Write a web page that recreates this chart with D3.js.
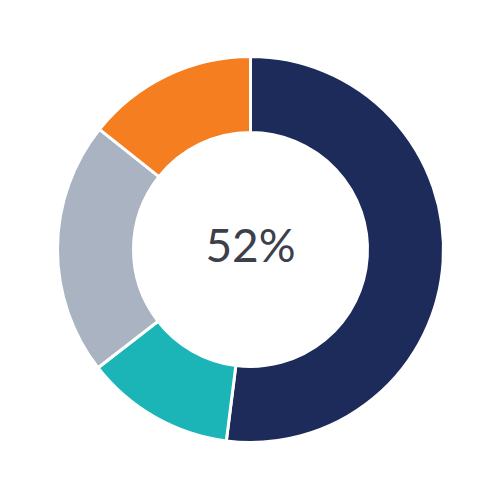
<!DOCTYPE html>
<html>
<head>
<meta charset="utf-8">
<script src="https://cdn.jsdelivr.net/npm/d3@7"></script>
<style>
  html, body { margin: 0; padding: 0; background: #fff; }
</style>
</head>
<body>
<div id="chart"></div>
<script>
const categories = ["A", "B", "C", "D"];
const values = [52, 12.5, 21.2, 14.3];
const colors = ["#1c2b5a", "#1bb5b7", "#a9b3c2", "#f47e20"];
const centerLabel = "52%";

const width = 500;
const height = 500;
const cx = 250.5;
const cy = 249.5;
const outerRadius = 193;
const innerRadius = 117;

const svg = d3.select("#chart")
    .append("svg")
    .attr("width", width)
    .attr("height", height);

const g = svg.append("g")
    .attr("transform", `translate(${cx},${cy})`);

const pie = d3.pie()
    .sort(null)
    .value(d => d.value);

const arc = d3.arc()
    .innerRadius(innerRadius)
    .outerRadius(outerRadius);

const data = categories.map((c, i) => ({ name: c, value: values[i], color: colors[i] }));

// Slices, white gaps between them
g.selectAll("path")
    .data(pie(data))
    .join("path")
    .attr("d", arc)
    .attr("fill", d => d.data.color)
    .attr("stroke", "white")
    .attr("stroke-width", 3);

g.append("text")
    .attr("x", 0)
    .attr("y", 12)
    .attr("text-anchor", "middle")
    .attr("font-family", "Lato, sans-serif")
    .attr("font-size", 46)
    .attr("fill", "#3b404a")
    .text(centerLabel);
</script>
</body>
</html>
